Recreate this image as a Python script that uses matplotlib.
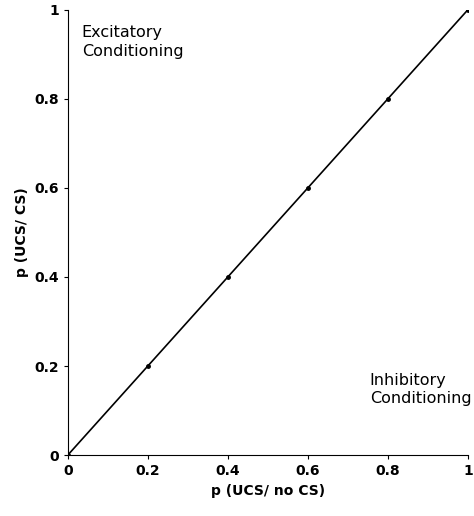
import matplotlib
matplotlib.use("Agg")
import matplotlib.pyplot as plt

x = [0, 0.2, 0.4, 0.6, 0.8, 1.0]
y = [0, 0.2, 0.4, 0.6, 0.8, 1.0]
ticks = [0, 0.2, 0.4, 0.6, 0.8, 1]
ticklabels = ["0", "0.2", "0.4", "0.6", "0.8", "1"]

fig = plt.figure(figsize=(4.74, 5.16), dpi=100)
ax = fig.add_axes([0.143, 0.118, 0.844, 0.863])
ax.plot(x, y, color="black", lw=1.2, marker="o", ms=2.5)
ax.set_xlim(0, 1)
ax.set_ylim(0, 1)
ax.set_xticks(ticks)
ax.set_xticklabels(ticklabels, fontweight="bold", fontsize=10)
ax.set_yticks(ticks)
ax.set_yticklabels(ticklabels, fontweight="bold", fontsize=10)
ax.spines["top"].set_visible(False)
ax.spines["right"].set_visible(False)
ax.tick_params(length=3, direction="out")
ax.set_xlabel("p (UCS/ no CS)", fontweight="bold", fontsize=10)
ax.set_ylabel("p (UCS/ CS)", fontweight="bold", fontsize=10)
ax.text(0.035, 0.965, "Excitatory\nConditioning", fontsize=11.5, va="top", ha="left", linespacing=1.3)
ax.text(0.755, 0.185, "Inhibitory\nConditioning", fontsize=11.5, va="top", ha="left", linespacing=1.3)
fig.savefig("out.png", dpi=100)
